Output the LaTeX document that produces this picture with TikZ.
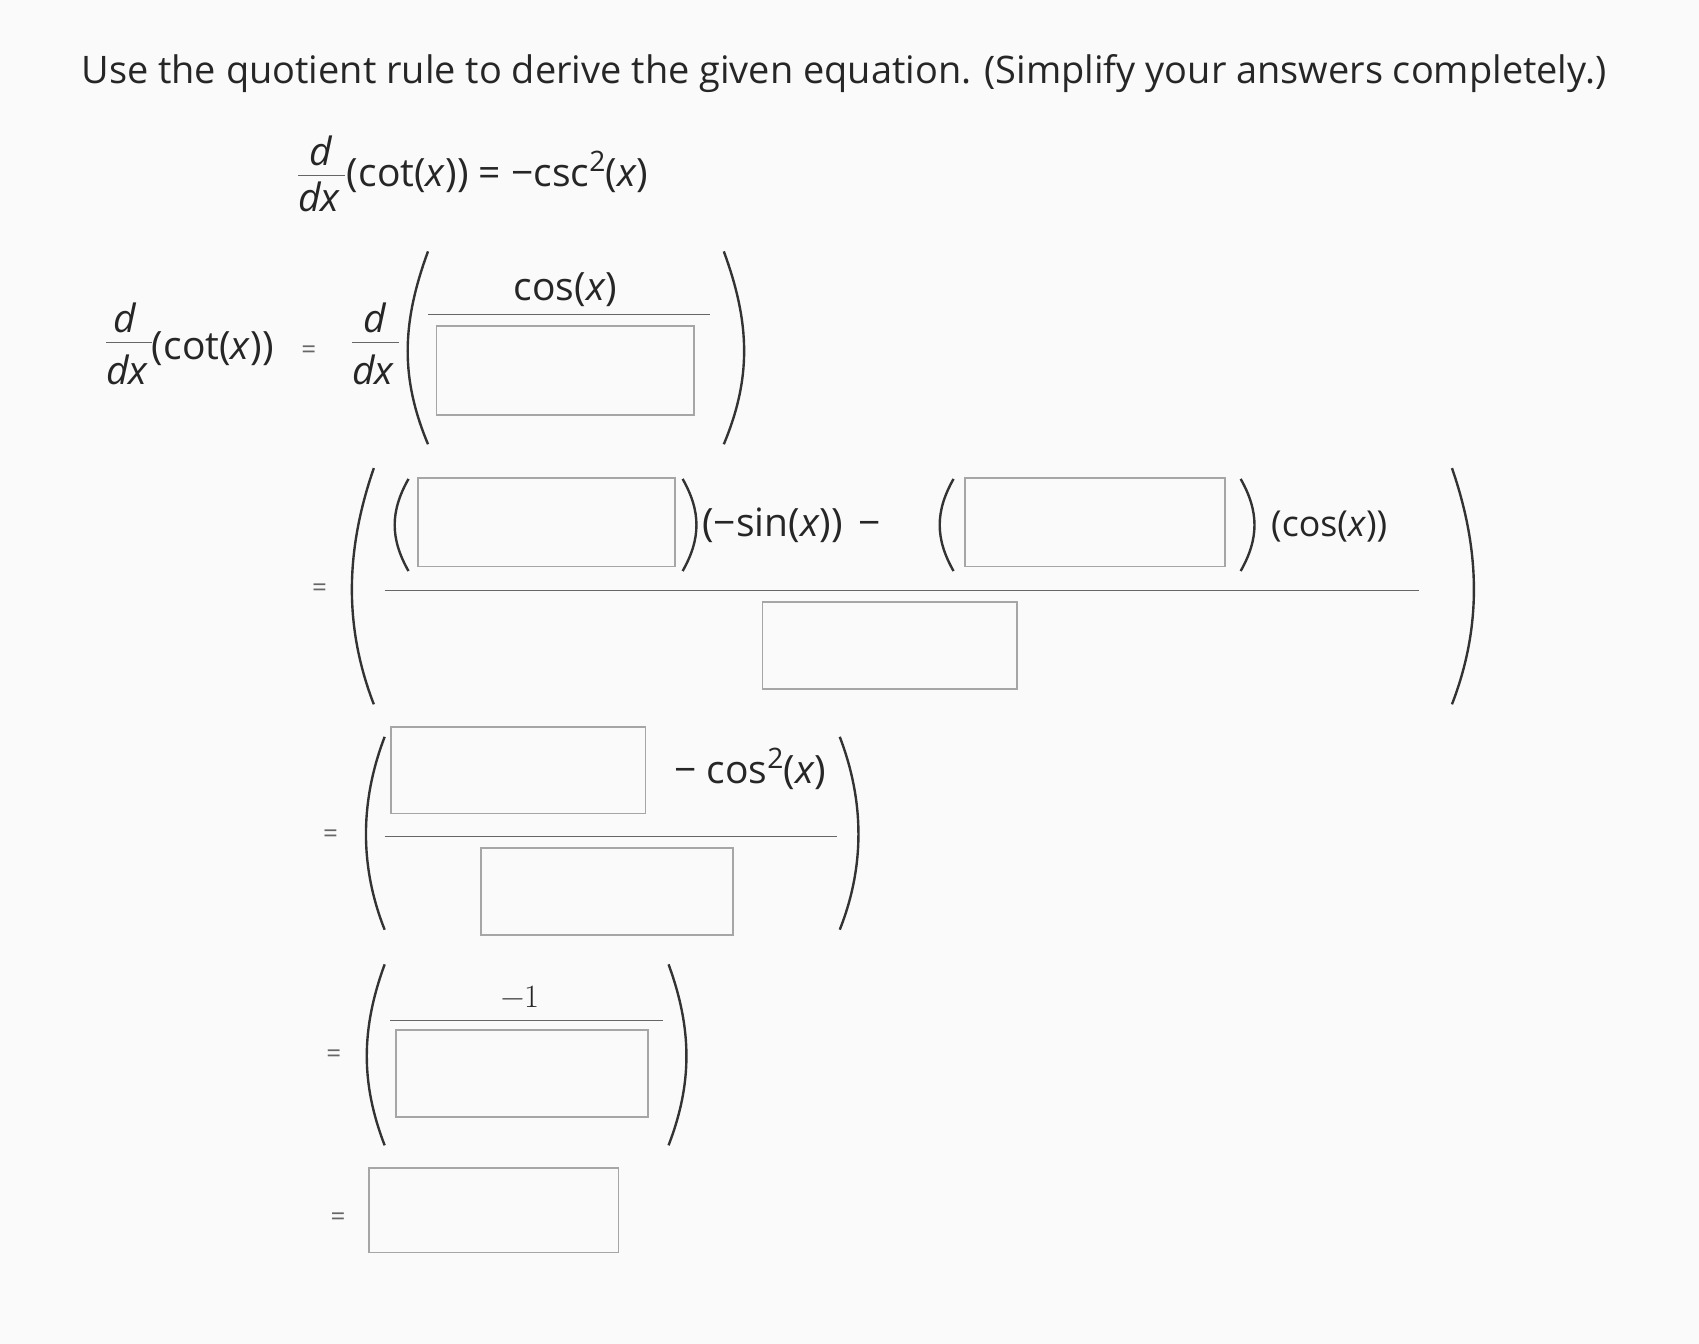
\documentclass[tikz,border=0pt]{standalone}
\usepackage{fontspec}
\setmainfont{Open Sans}
\newfontfamily\serif{Latin Modern Roman}
\begin{document}
\begin{tikzpicture}[x=1pt,y=-1pt,
  ansbox/.style={draw=gray!70,line width=1.6pt},
  txt/.style={anchor=base west,inner sep=0pt,font=\fontsize{36}{40}\selectfont,text=black!85},
  eqs/.style={anchor=center,inner sep=0pt,font=\fontsize{24}{26}\selectfont,text=black!60},
  fracline/.style={draw=black!60,line width=1pt},
  paren/.style={draw=black!80,line width=2.2pt}]
\useasboundingbox (0,0) rectangle (1568,1240);
\fill[white!96!gray] (0,0) rectangle (1568,1240);
\node[txt,font=\fontsize{35}{40}\selectfont] (title) at (75,77) {Use the quotient rule to derive the given equation. (Simplify your answers completely.)};
% line 1
\node[txt] (d1) at (285,153) {\textit{d}};
\draw[fracline] (275,162) -- (318,162);
\node[txt] (dx1) at (275,195) {\textit{dx}};
\node[txt] (l1) at (320,172) {(cot(\textit{x})) = −csc\raisebox{14pt}{\fontsize{26}{28}\selectfont 2}(\textit{x})};
% line 2
\node[txt] (d2) at (105,307) {\textit{d}};
\draw[fracline] (98,316) -- (140,316);
\node[txt] (dx2) at (98,355) {\textit{dx}};
\node[txt] (l2) at (140,332) {(cot(\textit{x}))};
\node[eqs] (eq2) at (285,325) {=};
\node[txt] (d3) at (335,307) {\textit{d}};
\draw[fracline] (325,316) -- (368,316);
\node[txt] (dx3) at (325,355) {\textit{dx}};
\draw[paren] (395,232) .. controls (370,300) and (370,350) .. (395,410);
\draw[paren] (668,232) .. controls (693,300) and (693,350) .. (668,410);
\node[txt] (cos) at (474,277) {cos(\textit{x})};
\draw[fracline] (395,290) -- (655,290);
\node[ansbox,minimum width=238pt,minimum height=82pt,anchor=north west] (b1) at (402,300) {};
% line 3
\node[eqs] (eq3) at (295,545) {=};
\draw[paren] (345,432) .. controls (318,510) and (318,580) .. (345,650);
\draw[paren] (1340,432) .. controls (1367,510) and (1367,580) .. (1340,650);
\draw[paren] (377,442) .. controls (360,472) and (360,497) .. (377,527);
\node[ansbox,minimum width=237pt,minimum height=82pt,anchor=north west] (b2) at (385,440) {};
\draw[paren] (630,442) .. controls (647,472) and (647,497) .. (630,527);
\node[txt] (sin) at (648,495) {(−sin(\textit{x}))\hspace{14pt}−};
\draw[paren] (880,442) .. controls (863,472) and (863,497) .. (880,527);
\node[ansbox,minimum width=240pt,minimum height=82pt,anchor=north west] (b3) at (890,440) {};
\draw[paren] (1145,442) .. controls (1162,472) and (1162,497) .. (1145,527);
\node[txt,font=\fontsize{33}{36}\selectfont] (cosx) at (1173,495) {(cos(\textit{x}))};
\draw[fracline] (355,545) -- (1310,545);
\node[ansbox,minimum width=235pt,minimum height=80pt,anchor=north west] (b4) at (703,555) {};
% line 4
\node[eqs] (eq4) at (305,772) {=};
\draw[paren] (355,680) .. controls (332,740) and (332,800) .. (355,858);
\draw[paren] (775,680) .. controls (798,740) and (798,800) .. (775,858);
\node[ansbox,minimum width=235pt,minimum height=80pt,anchor=north west] (b5) at (360,670) {};
\node[txt] (cos2) at (622,723) {− cos\raisebox{14pt}{\fontsize{26}{28}\selectfont 2}(\textit{x})};
\draw[fracline] (355,772) -- (772,772);
\node[ansbox,minimum width=233pt,minimum height=80pt,anchor=north west] (b6) at (443,782) {};
% line 5
\node[eqs] (eq5) at (308,975) {=};
\draw[paren] (355,890) .. controls (333,950) and (333,1000) .. (355,1057);
\draw[paren] (617,890) .. controls (639,950) and (639,1000) .. (617,1057);
\node[txt,font=\serif\fontsize{30}{32}\selectfont] (m1) at (462,930) {−1};
\draw[fracline] (360,942) -- (612,942);
\node[ansbox,minimum width=232pt,minimum height=80pt,anchor=north west] (b7) at (365,950) {};
% line 6
\node[eqs] (eq6) at (312,1125) {=};
\node[ansbox,minimum width=230pt,minimum height=78pt,anchor=north west] (b8) at (340,1077) {};
\end{tikzpicture}
\end{document}
